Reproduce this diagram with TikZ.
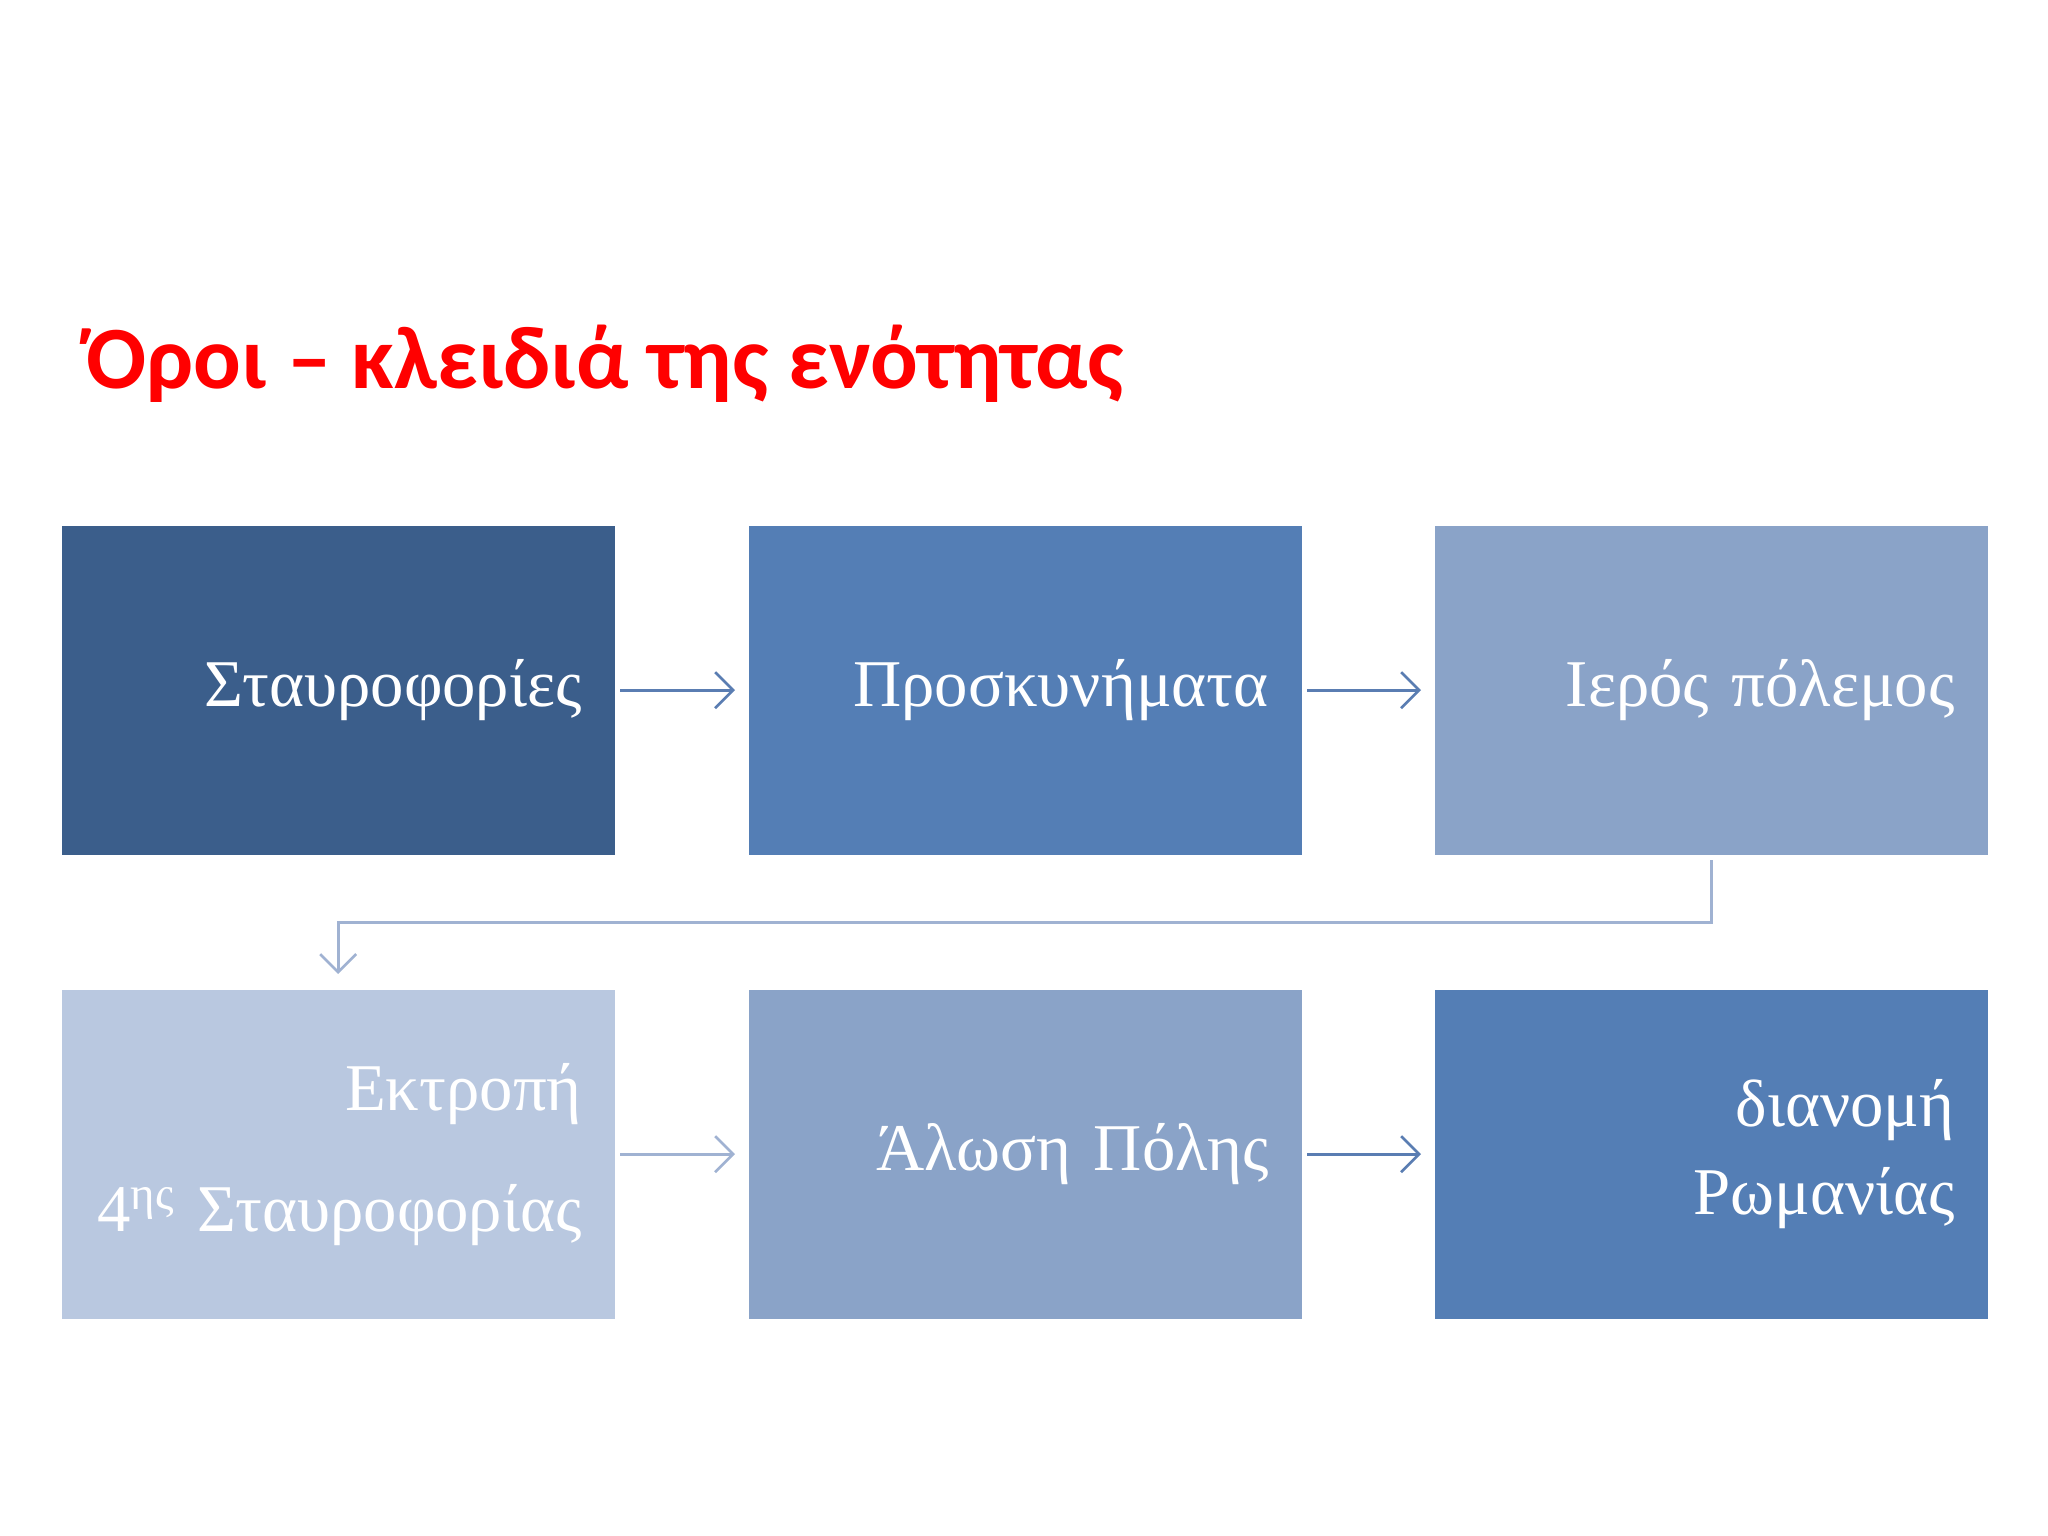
\documentclass[tikz,border=0pt]{standalone}
\usepackage{fontspec}
\setmainfont{Liberation Serif}
\newfontfamily\titlefont{Carlito}
\usetikzlibrary{arrows.meta}
\definecolor{boxdark}{RGB}{59,94,139}
\definecolor{boxmid}{RGB}{84,126,181}
\definecolor{boxsoft}{RGB}{138,163,200}
\definecolor{boxpale}{RGB}{185,200,224}
\definecolor{linkmid}{RGB}{90,125,178}
\definecolor{linkpale}{RGB}{160,178,210}
\tikzset{
  termbox/.style={rectangle, anchor=north west, minimum width=5.53cm, minimum height=3.29cm,
    text width=4.87cm, inner xsep=0.33cm, align=right, text=white,
    font=\fontsize{19}{23}\selectfont},
  link/.style={-{Straight Barb[length=1.8mm,width=3.6mm]}, line width=0.75pt,
    shorten <=0.05cm, shorten >=0.13cm}
}
\begin{document}
\begin{tikzpicture}
\useasboundingbox (0,0) rectangle (20.48,-15.36);   % page frame
\node[anchor=base west, text=red, font=\titlefont\bfseries\fontsize{25.3}{30}\selectfont] (title)
  at (0.74,-3.89) {Όροι – κλειδιά της ενότητας};
% first row
\node[termbox, fill=boxdark] (stavr) at (0.61,-5.25) {Σταυροφορίες};
\node[termbox, fill=boxmid]  (prosk) at (7.48,-5.25) {Προσκυνήματα};
\node[termbox, fill=boxsoft] (polem) at (14.34,-5.25) {Ιερός πόλεμος};
% second row
\node[termbox, fill=boxpale] (ektr) at (0.61,-9.89)
  {Εκτροπή\\[0.4cm]\makebox[4.87cm][r]{4\textsuperscript{ης} Σταυροφορίας}};
\node[termbox, fill=boxsoft] (alos) at (7.48,-9.89) {Άλωση Πόλης};
\node[termbox, fill=boxmid]  (dian) at (14.34,-9.89) {διανομή\\[2pt]Ρωμανίας};
% connectors
\draw[link, linkmid] (stavr) -- (prosk);
\draw[link, linkmid] (prosk) -- (polem);
\draw[link, linkpale, shorten >=0.15cm] (polem.south) -- ++(0,-0.67) -| (ektr.north);
\draw[link, linkpale] (ektr) -- (alos);
\draw[link, linkmid] (alos) -- (dian);
\end{tikzpicture}
\end{document}
